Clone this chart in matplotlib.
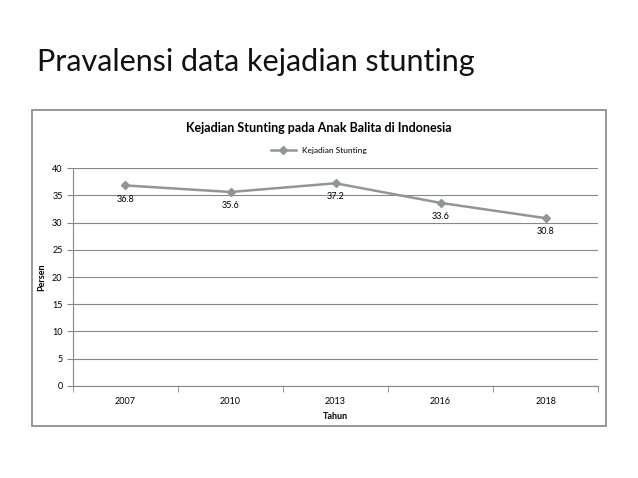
import matplotlib.pyplot as plt
from matplotlib.patches import Rectangle

plt.rcParams['font.family'] = ['Lato', 'DejaVu Sans']

years = ['2007', '2010', '2013', '2016', '2018']
values = [36.8, 35.6, 37.2, 33.6, 30.8]
labels = ['36.8', '35.6', '37.2', '33.6', '30.8']

fig = plt.figure(figsize=(6.38, 4.78), dpi=100)
fig.text(0.058, 0.87, 'Pravalensi data kejadian stunting', fontsize=22, color='#111111', va='center')
fig.patches.append(Rectangle((0.0502, 0.1088), 0.9, 0.661, transform=fig.transFigure,
                             fill=False, edgecolor='#888888', linewidth=1.2))
fig.text(0.5, 0.732, 'Kejadian Stunting pada Anak Balita di Indonesia', fontsize=9,
         fontweight='bold', ha='center', va='center')

ax = fig.add_axes([0.1144, 0.1925, 0.823, 0.456])
x = range(len(years))
line, = ax.plot(x, values, color='#8d9896', linewidth=1.8, marker='D', markersize=4,
                label='Kejadian Stunting')
for i, (v, s) in enumerate(zip(values, labels)):
    ax.text(i, v - 2.5, s, ha='center', va='center', fontsize=6.5)
ax.set_xlim(-0.5, len(years) - 0.5)
ax.set_ylim(0, 40)
ax.set_yticks(range(0, 41, 5))
ax.set_xticks(list(x))
ax.set_xticklabels(years)
ax.set_xticks([i + 0.5 for i in range(-1, len(years))], minor=True)
ax.tick_params(axis='x', which='major', length=0, labelsize=6.5, pad=8)
ax.tick_params(axis='x', which='minor', length=4, color='#888888')
ax.tick_params(axis='y', labelsize=6.5, length=4, color='#888888')
ax.grid(axis='y', color='#888888', linewidth=0.8)
ax.set_axisbelow(True)
for side in ['top', 'right']:
    ax.spines[side].set_visible(False)
for side in ['left', 'bottom']:
    ax.spines[side].set_color('#888888')
ax.set_xlabel('Tahun', fontsize=6.5, fontweight='bold')
ax.set_ylabel('Persen', fontsize=6.5, fontweight='bold')
fig.legend(handles=[line], loc='center', bbox_to_anchor=(0.5, 0.686), frameon=False,
           fontsize=6, handlelength=3)

fig.savefig('out.png', dpi=100)
